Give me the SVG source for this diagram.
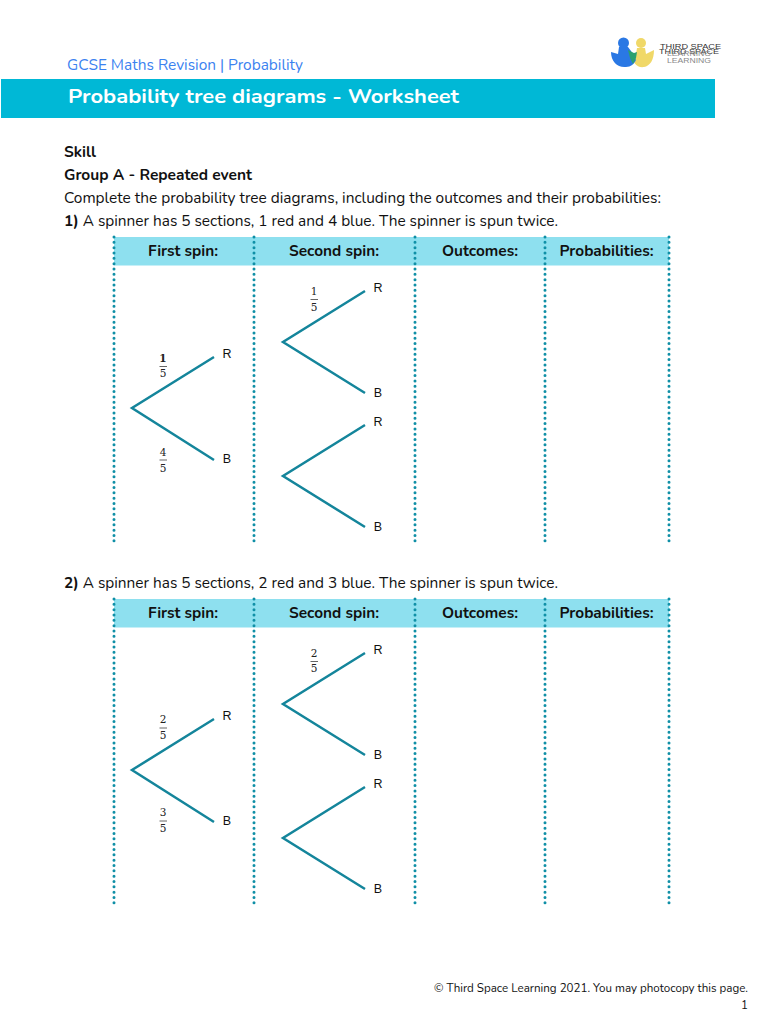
<svg xmlns="http://www.w3.org/2000/svg" width="768" height="1024" viewBox="0 0 768 1024">
<style>
text{font-family:"Nunito","Lato","Noto Sans",sans-serif;fill:#111}
.b{font-weight:700}
.body{font-size:15px}
.hd{font-size:15.400px;font-weight:700;text-anchor:middle}
.lab{font-family:"Liberation Sans",Arial,sans-serif;font-size:12.500px;text-anchor:middle}
.num{font-family:"DejaVu Serif","Liberation Serif",serif;font-size:10.500px;text-anchor:middle;fill:#222}
.bar{stroke:#555;stroke-width:.9}
.dot{stroke:#0f8fa6;stroke-width:3;stroke-linecap:round;stroke-dasharray:0 5.33;fill:none}
.edge{stroke:#14859b;stroke-width:2.500;fill:none}
.head{fill:#8ee0ef}
.lg{font-family:"Liberation Sans",Arial,sans-serif;font-size:7.800px}
</style>
<defs>
<g id="tbl">
<rect class="head" x="114" y="237" width="555" height="28.500"/>
<path class="dot" d="M114 237V544M254 237V544M415 237V544M545 237V544M669 237V544"/>
<text class="hd" x="183" y="256">First spin:</text>
<text class="hd" x="334" y="256">Second spin:</text>
<text class="hd" x="480" y="256">Outcomes:</text>
<text class="hd" x="606.500" y="256">Probabilities:</text>
</g>
<g id="tree">
<path class="edge" d="M214 357L132 408L214 460M365 291L283 342L365 393M365 425L283 476L365 527"/>
<text class="lab" x="227" y="358">R</text>
<text class="lab" x="227" y="463">B</text>
<text class="lab" x="378" y="291.500">R</text>
<text class="lab" x="378" y="396.500">B</text>
<text class="lab" x="378" y="426">R</text>
<text class="lab" x="378" y="530.500">B</text>
</g>
</defs>
<g id="header">
<text x="67" y="70" font-size="15" style="fill:#3b82f0" textLength="236" lengthAdjust="spacingAndGlyphs">GCSE Maths Revision | Probability</text>
<rect x="1" y="79" width="714" height="39" fill="#00b8d6"/>
<text x="68" y="103" font-size="20.500" font-weight="700" style="fill:#fff" textLength="391" lengthAdjust="spacingAndGlyphs">Probability tree diagrams - Worksheet</text>
</g>
<g id="logo">
<circle cx="641" cy="43" r="5" fill="#f0d868"/>
<path d="M632 53C632 63 637 68 644 67C650 66 654 60 654 50L646 54L645 48H637L636 54Z" fill="#f0d868"/>
<circle cx="623.500" cy="43" r="5.500" fill="#2a78e4"/>
<path d="M611 52C611 62 618 68 626 67C631 67 634 64 636 60L631 51L628 47H619L618 54Z" fill="#2a78e4"/>
<path d="M628 50L634 53L637 52L636 58L633 64L630 58Z" fill="#2aa070"/>
<text class="lg" x="660" y="48.500" style="fill:#333" textLength="61" lengthAdjust="spacingAndGlyphs">THIRD SPACE</text>
<text class="lg" x="659" y="54" style="fill:#333" textLength="60" lengthAdjust="spacingAndGlyphs">THIRD SPACE</text>
<text class="lg" x="667" y="55.500" style="fill:#888" textLength="44" lengthAdjust="spacingAndGlyphs">LEARNING</text>
<text class="lg" x="667" y="63" style="fill:#888" textLength="44" lengthAdjust="spacingAndGlyphs">LEARNING</text>
</g>
<g id="intro" class="body">
<text x="64" y="157" class="b body" textLength="32" lengthAdjust="spacingAndGlyphs">Skill</text>
<text x="64" y="180" class="b body" textLength="188" lengthAdjust="spacingAndGlyphs">Group A - Repeated event</text>
<text x="64" y="203" class="body" textLength="597" lengthAdjust="spacingAndGlyphs">Complete the probability tree diagrams, including the outcomes and their probabilities:</text>
<text x="64" y="226" class="body" textLength="494" lengthAdjust="spacingAndGlyphs"><tspan class="b">1)</tspan> A spinner has 5 sections, 1 red and 4 blue. The spinner is spun twice.</text>
<text x="64" y="588" class="body" textLength="494" lengthAdjust="spacingAndGlyphs"><tspan class="b">2)</tspan> A spinner has 5 sections, 2 red and 3 blue. The spinner is spun twice.</text>
</g>
<g id="table-1"><use href="#tbl"/></g>
<g id="table-2"><use href="#tbl" y="362"/></g>
<g id="connectors-1"><use href="#tree"/></g>
<g id="connectors-2"><use href="#tree" y="362"/></g>
<g id="fractions-1">
<text class="num" x="163" y="362" font-weight="700">1</text><path class="bar" d="M159.500 366.500H167"/><text class="num" x="163" y="377">5</text>
<text class="num" x="163" y="456">4</text><path class="bar" d="M159.500 460H167"/><text class="num" x="163" y="471.500">5</text>
<text class="num" x="314" y="295">1</text><path class="bar" d="M310.500 299.500H318"/><text class="num" x="314" y="311">5</text>
</g>
<g id="fractions-2">
<text class="num" x="163" y="723">2</text><path class="bar" d="M159.500 728H167"/><text class="num" x="163" y="739">5</text>
<text class="num" x="163" y="816">3</text><path class="bar" d="M159.500 821H167"/><text class="num" x="163" y="832">5</text>
<text class="num" x="314" y="657">2</text><path class="bar" d="M310.500 661.500H318"/><text class="num" x="314" y="672">5</text>
</g>
<g id="footer">
<text x="748" y="992" font-size="11.500" text-anchor="end" textLength="314" lengthAdjust="spacingAndGlyphs">© Third Space Learning 2021. You may photocopy this page.</text>
<text x="748" y="1009" font-size="11.500" text-anchor="end">1</text>
</g>
</svg>
